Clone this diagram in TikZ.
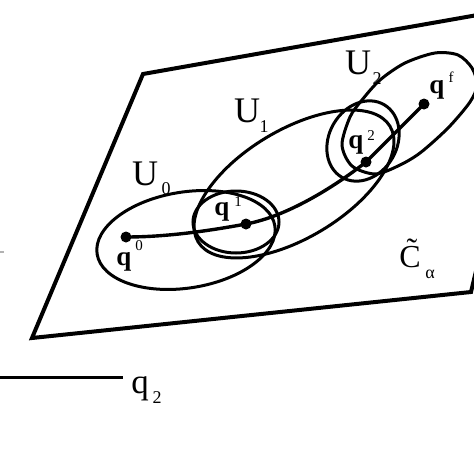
\documentclass[tikz,border=0pt]{standalone}
\usepackage{fontspec}
\setmainfont{Liberation Serif}
\begin{document}
\begin{tikzpicture}[x=1pt,y=-1pt,
  edge/.style={line width=4pt, line join=miter},
  oval/.style={line width=3pt},
  trail/.style={line width=3.4pt},
  dotnode/.style={circle, fill=black, inner sep=0pt, minimum size=11pt},
  bigU/.style={font=\fontsize{36}{36}\selectfont, inner sep=0pt},
  qbold/.style={font=\fontsize{27}{27}\selectfont\bfseries, inner sep=0pt},
  qreg/.style={font=\fontsize{35}{35}\selectfont, inner sep=0pt},
  subn/.style={font=\fontsize{18}{18}\selectfont, inner sep=0pt},
  supn/.style={font=\fontsize{15}{15}\selectfont, inner sep=0pt}]
\useasboundingbox (0,0) rectangle (474,474);
\clip (0,0) rectangle (474,474);
% plane
\draw[edge] (143,74) -- (540,4) -- (471,292) -- (32,338) -- cycle;
% axis remnant
\draw[line width=3pt] (0,377) -- (123,377);
\draw[gray!60, line width=2pt] (0,252) -- (4,252);
% neighbourhoods
\draw[oval, rotate around={9:(186,240)}] (186,240) ellipse [x radius=90pt, y radius=48pt];
\draw[oval] (236,222) ellipse [x radius=43pt, y radius=31pt];
\draw[oval, rotate around={31:(294,184)}] (294,184) ellipse [x radius=112pt, y radius=54pt];
\draw[oval, rotate around={60:(363,141)}] (363,141) ellipse [x radius=42pt, y radius=34pt];
\draw[oval] plot[smooth cycle] coordinates {(342,145) (350,117) (362,100) (380,80) (405,63) (435,53) (458,55) (472,68) (477,85) (470,102) (448,128) (420,153) (398,166) (375,174) (352,166)};
% path
\node[dotnode] (q0) at (126,237) {};
\node[dotnode] (q1) at (246,224) {};
\node[dotnode] (q2) at (366,162) {};
\node[dotnode] (qf) at (424,104) {};
\draw[trail] (q0.center) .. controls (166,237) and (208,231) .. (q1.center)
  .. controls (286,216.6) and (333,188) .. (q2.center) -- (qf.center);
% labels
\node[bigU] (u0) at (145,174) {U};
\node[subn] (u0s) at (166,189) {0};
\node[bigU] (u1) at (247,111) {U};
\node[subn] (u1s) at (264,127) {1};
\node[bigU] (u2) at (358,63) {U};
\node[subn] (u2s) at (377,79) {2};
\node[qbold] (l0) at (124,262) {q};
\node[supn] (l0s) at (139,246) {0};
\node[qbold] (l1) at (222,212) {q};
\node[supn] (l1s) at (238,202) {1};
\node[qbold] (l2) at (356,145) {q};
\node[supn] (l2s) at (371,136) {2};
\node[qbold] (lf) at (437,90) {q};
\node[supn] (lfs) at (451,77) {f};
\node[qreg] (ax) at (140,389) {q};
\node[subn] (axs) at (157,398) {2};
\node[font=\fontsize{32}{32}\selectfont, inner sep=0pt, anchor=base] (cc) at (410,267) {\~{C}};
\node[subn] (ca) at (430,274) {α};
\end{tikzpicture}
\end{document}
